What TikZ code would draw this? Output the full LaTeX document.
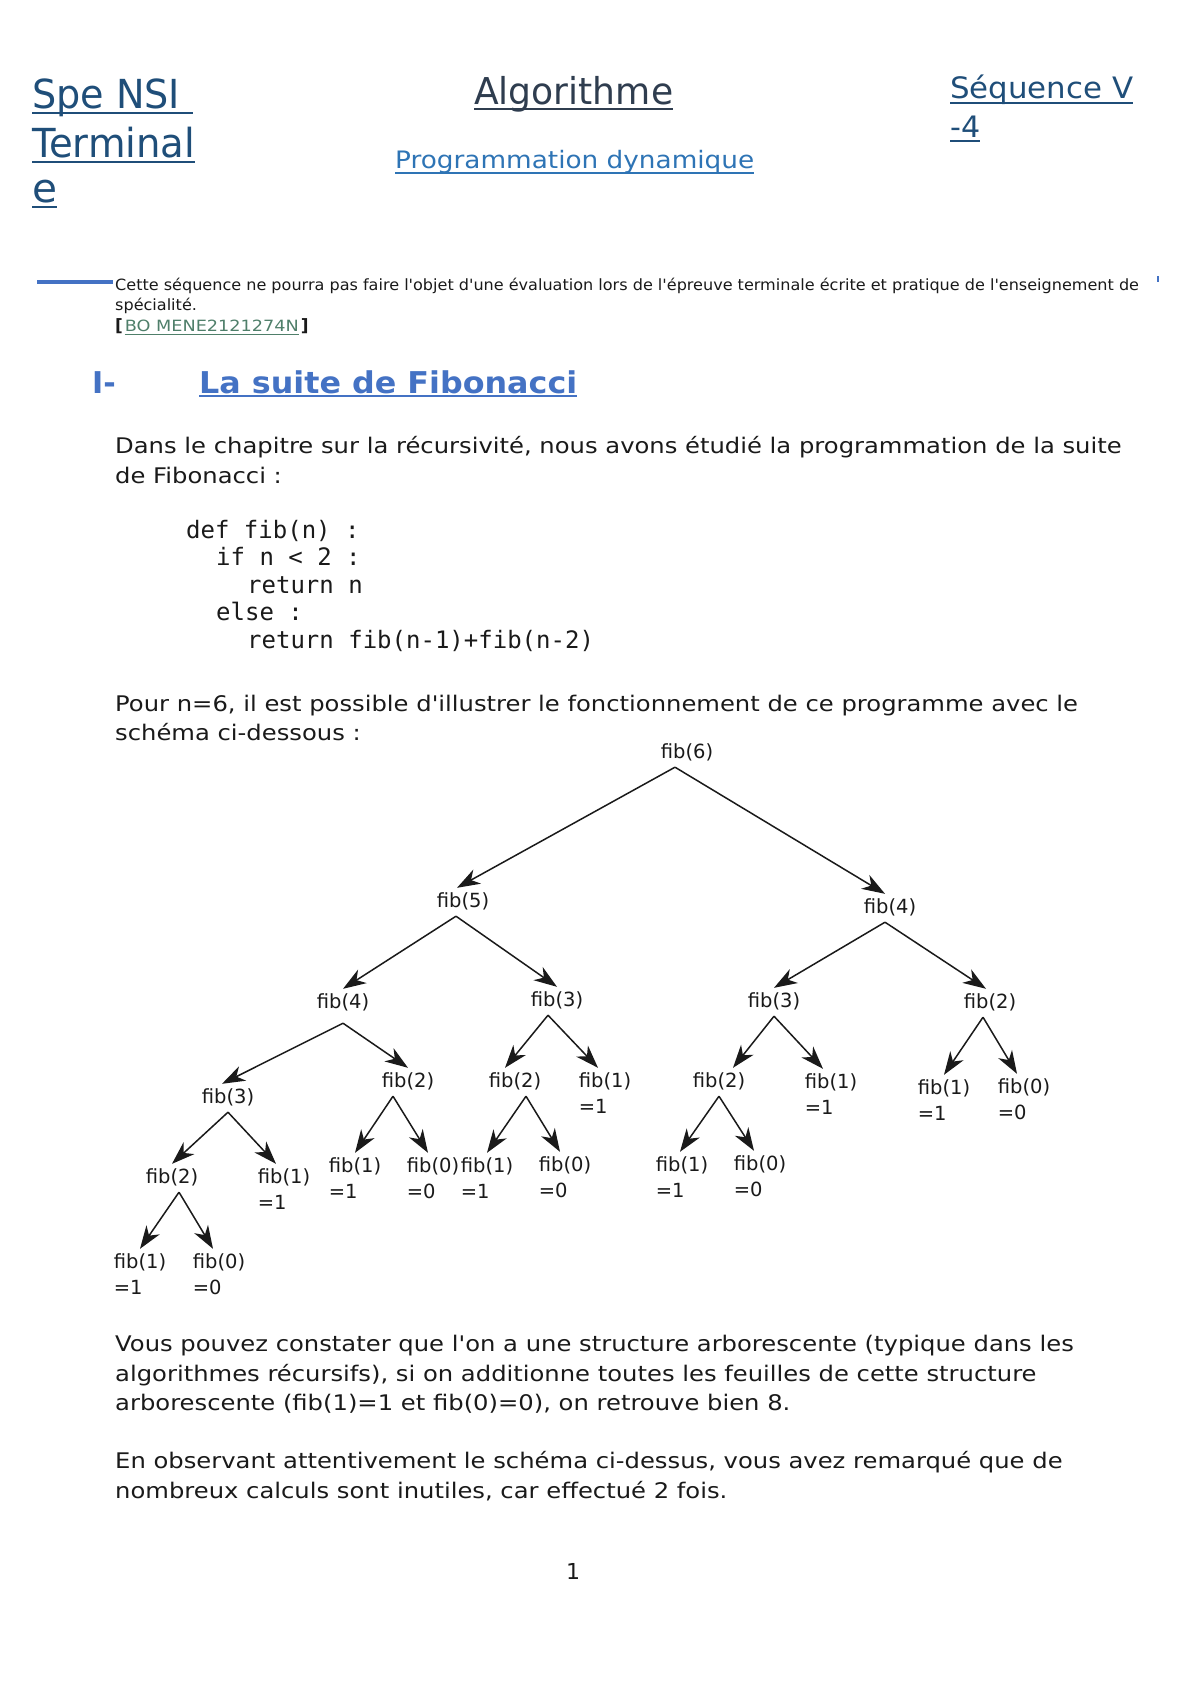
\documentclass[tikz,border=0pt]{standalone}
\usepackage{fontspec}
\setmainfont{DejaVu Sans}[Ligatures=TeXOff]
\setmonofont{DejaVu Sans Mono}
\usetikzlibrary{arrows.meta}
\definecolor{hblue}{HTML}{1F4E79}
\definecolor{hslate}{HTML}{2F3D4F}
\definecolor{pblue}{HTML}{2E74B5}
\definecolor{sblue}{HTML}{4472C4}
\definecolor{lgreen}{HTML}{4F7F6A}
\definecolor{ink}{HTML}{1A1A1A}
\newcommand{\hfitw}[2]{\resizebox{#1}{\height}{#2}}
\newcommand{\stretchx}[1]{\scalebox{1.128}[1]{#1}}
\newcommand{\stretchn}[1]{\scalebox{1.036}[1]{#1}}
\begin{document}
\begin{tikzpicture}[x=1pt,y=-1pt,
  txt/.style={anchor=base west,inner sep=0pt,text=ink,font=\fontsize{21.5}{26}\selectfont},
  note/.style={anchor=base west,inner sep=0pt,text=ink,font=\fontsize{15.5}{18}\selectfont},
  code/.style={anchor=base west,inner sep=0pt,text=ink,font=\fontsize{24}{28}\ttfamily},
  hdr/.style={anchor=base west,inner sep=0pt,text=hblue,font=\fontsize{40}{48}\selectfont},
  tn/.style={inner xsep=0pt,inner ysep=5pt,text height=14pt,text depth=4pt,text=ink,font=\fontsize{19.5}{22}\selectfont},
  eq/.style={anchor=north west,inner sep=0pt,text=ink,font=\fontsize{19.5}{22}\selectfont,yshift=-3pt},
  arr/.style={-{Stealth[length=23pt,width=16pt,inset=7pt]},line width=1.5pt,draw=ink},
  ul/.style={line width=2pt}
]
\useasboundingbox (0,0) rectangle (1200,1696);
\fill[white] (0,0) rectangle (1200,1696);

% ---------- header ----------
\node[hdr] (spe) at (32,109) {\hfitw{148pt}{Spe NSI}};
\node[hdr] (ter) at (32,158) {\hfitw{163pt}{Terminal}};
\node[hdr] (ee)  at (32,203) {\hfitw{25pt}{e}};
\draw[ul,hblue] ([yshift=-4pt]spe.base west) -- ++(161,0);
\draw[ul,hblue] ([yshift=-4pt]ter.base west) -- ([yshift=-4pt]ter.base east);
\draw[ul,hblue] ([yshift=-4pt]ee.base west) -- ([yshift=-4pt]ee.base east);

\node[hdr,text=hslate,font=\fontsize{37}{44}\selectfont] (alg) at (474,105) {\hfitw{199pt}{Algorithme}};
\draw[ul,hslate] ([yshift=-4pt]alg.base west) -- ([yshift=-4pt]alg.base east);

\node[anchor=base west,inner sep=0pt,text=pblue,font=\fontsize{24}{28}\selectfont] (prog) at (395,169) {\hfitw{359pt}{Programmation dynamique}};
\draw[line width=1.2pt,pblue] ([yshift=-4pt]prog.base west) -- ([yshift=-4pt]prog.base east);

\node[hdr,font=\fontsize{29.5}{34}\selectfont] (seq) at (950,99) {\hfitw{183pt}{Séquence V}};
\node[hdr,font=\fontsize{29.5}{34}\selectfont] (s4) at (950,138) {\hfitw{30pt}{-4}};
\draw[ul,hblue] ([yshift=-4pt]seq.base west) -- ([yshift=-4pt]seq.base east);
\draw[ul,hblue] ([yshift=-3pt]s4.base west) -- ([yshift=-3pt]s4.base east);

% ---------- note ----------
\draw[sblue,line width=3.5pt] (37,282) -- (113,282);
\node[note] (n1) at (115,290) {\stretchn{Cette séquence ne pourra pas faire l'objet d'une évaluation lors de l'épreuve terminale écrite et pratique de l'enseignement de}};
\node[note] (n2) at (115,310) {\stretchn{spécialité.}};
\node[note,font=\fontsize{17}{18}\selectfont] (lb) at (115,331) {\textbf{[}};
\node[note,text=lgreen] (bo) at ([xshift=1.5pt]lb.base east) {\hfitw{174pt}{BO MENE2121274N}};
\node[note,font=\fontsize{17}{18}\selectfont] (rb) at ([xshift=1.5pt]bo.base east) {\textbf{]}};
\draw[lgreen,line width=0.9pt] ([yshift=-3pt]bo.base west) -- ([yshift=-3pt]bo.base east);
\fill[sblue] (1157,276) rectangle (1159,282);

% ---------- section ----------
\node[anchor=base west,inner sep=0pt,text=sblue,font=\fontsize{30}{34}\bfseries] (sec) at (92,393) {I-};
\node[anchor=base west,inner sep=0pt,text=sblue,font=\fontsize{30}{34}\bfseries] (tit) at (199,393) {\hfitw{378pt}{La suite de Fibonacci}};
\draw[sblue,line width=2pt] ([yshift=-3pt]tit.base west) -- ([yshift=-3pt]tit.base east);

% ---------- text ----------
\node[txt] (p1) at (115,453) {\stretchx{Dans le chapitre sur la récursivité, nous avons étudié la programmation de la suite}};
\node[txt] (p2) at (115,483) {\stretchx{de Fibonacci :}};

\node[code] (c1) at (186,538) {def fib(n) :};
\node[code] (c2) at (216,565) {if n < 2 :};
\node[code] (c3) at (247,593) {return n};
\node[code] (c4) at (216,620) {else :};
\node[code] (c5) at (247,648) {return fib(n-1)+fib(n-2)};

\node[txt] (p3) at (115,711) {\stretchx{Pour n=6, il est possible d'illustrer le fonctionnement de ce programme avec le}};
\node[txt] (p4) at (115,740) {\stretchx{schéma ci-dessous :}};

% ---------- tree ----------
\node[tn] (f6)  at (687,753) {fib(6)};
\node[tn] (f5)  at (463,902) {fib(5)};
\node[tn] (f4r) at (890,908) {fib(4)};
\node[tn] (f4l) at (343,1003) {fib(4)};
\node[tn] (f3m) at (557,1001) {fib(3)};
\node[tn] (f3r) at (774,1002) {fib(3)};
\node[tn] (f2rr) at (990,1003) {fib(2)};
\node[tn] (f3l) at (228,1098) {fib(3)};
\node[tn] (f2a) at (408,1082) {fib(2)};
\node[tn] (f2b) at (515,1082) {fib(2)};
\node[tn,label={[eq]south west:=1}] (f1c) at (605,1082) {fib(1)};
\node[tn] (f2d) at (719,1082) {fib(2)};
\node[tn,label={[eq]south west:=1}] (f1e) at (831,1083) {fib(1)};
\node[tn,label={[eq]south west:=1}] (f1f) at (944,1089) {fib(1)};
\node[tn,label={[eq]south west:=0}] (f0g) at (1024,1088) {fib(0)};
\node[tn] (f2h) at (172,1178) {fib(2)};
\node[tn,label={[eq]south west:=1}] (f1i) at (284,1178) {fib(1)};
\node[tn,label={[eq]south west:=1}] (f1j) at (355,1167) {fib(1)};
\node[tn,label={[eq]south west:=0}] (f0k) at (433,1167) {fib(0)};
\node[tn,label={[eq]south west:=1}] (f1l) at (487,1167) {fib(1)};
\node[tn,label={[eq]south west:=0}] (f0m) at (565,1166) {fib(0)};
\node[tn,label={[eq]south west:=1}] (f1n) at (682,1166) {fib(1)};
\node[tn,label={[eq]south west:=0}] (f0o) at (760,1165) {fib(0)};
\node[tn,label={[eq]south west:=1}] (f1p) at (140,1263) {fib(1)};
\node[tn,label={[eq]south west:=0}] (f0q) at (219,1263) {fib(0)};

\draw[arr] ([xshift=-12pt]f6.south) -- ([xshift=-6pt]f5.north);
\draw[arr] ([xshift=-12pt]f6.south) -- ([xshift=-5pt]f4r.north);
\draw[arr] ([xshift=-7pt]f5.south) -- (f4l.north);
\draw[arr] ([xshift=-7pt]f5.south) -- (f3m.north);
\draw[arr] ([xshift=-5pt]f4r.south) -- (f3r.north);
\draw[arr] ([xshift=-5pt]f4r.south) -- ([xshift=-4pt]f2rr.north);
\draw[arr] ([yshift=-6pt]f4l.south) -- ([xshift=-6pt]f3l.north);
\draw[arr] ([yshift=-6pt]f4l.south) -- (f2a.north);
\draw[arr] ([xshift=-9pt]f3m.south) -- ([xshift=-10pt]f2b.north);
\draw[arr] ([xshift=-9pt]f3m.south) -- ([xshift=-7pt]f1c.north);
\draw[arr] (f3r.south) -- ([xshift=14pt]f2d.north);
\draw[arr] (f3r.south) -- ([xshift=-8pt]f1e.north);
\draw[arr] ([xshift=-7pt]f2rr.south) -- (f1f.north);
\draw[arr] ([xshift=-7pt]f2rr.south) -- ([xshift=-7pt]f0g.north);
\draw[arr] (f3l.south) -- (f2h.north);
\draw[arr] (f3l.south) -- ([xshift=-8pt]f1i.north);
\draw[arr] ([xshift=-15pt]f2a.south) -- (f1j.north);
\draw[arr] ([xshift=-15pt]f2a.south) -- ([xshift=-5pt]f0k.north);
\draw[arr] ([xshift=11pt]f2b.south) -- (f1l.north);
\draw[arr] ([xshift=11pt]f2b.south) -- ([xshift=-5pt]f0m.north);
\draw[arr] (f2d.south) -- ([xshift=-2pt]f1n.north);
\draw[arr] (f2d.south) -- ([xshift=-6pt]f0o.north);
\draw[arr] ([xshift=7pt]f2h.south) -- (f1p.north);
\draw[arr] ([xshift=7pt]f2h.south) -- ([xshift=-6pt]f0q.north);

% ---------- text after ----------
\node[txt] (q1) at (115,1351) {\stretchx{Vous pouvez constater que l'on a une structure arborescente (typique dans les}};
\node[txt] (q2) at (115,1381) {\stretchx{algorithmes récursifs), si on additionne toutes les feuilles de cette structure}};
\node[txt] (q3) at (115,1410) {\stretchx{arborescente (fib(1)=1 et fib(0)=0), on retrouve bien 8.}};
\node[txt] (q4) at (115,1468) {\stretchx{En observant attentivement le schéma ci-dessus, vous avez remarqué que de}};
\node[txt] (q5) at (115,1498) {\stretchx{nombreux calculs sont inutiles, car effectué 2 fois.}};

\node[anchor=base,inner sep=0pt,text=ink,font=\fontsize{22}{26}\selectfont] (pg) at (573,1579) {1};
\end{tikzpicture}
\end{document}
